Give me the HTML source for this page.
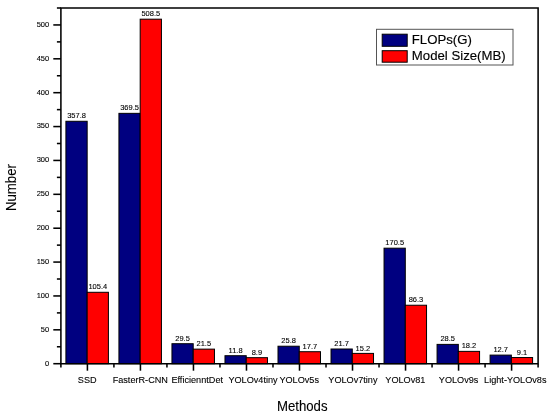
<!DOCTYPE html>
<html><head><meta charset="utf-8"><title>chart</title>
<style>html,body{margin:0;padding:0;background:#fff}svg{display:block}text{font-family:"Liberation Sans",Arial,sans-serif;fill:#000}</style></head>
<body>
<svg width="550" height="419" viewBox="0 0 550 419">
<rect width="550" height="419" fill="#fff"/>
<rect x="65.91" y="121.28" width="21.25" height="242.42" fill="#000080" stroke="#000" stroke-width="1"/>
<rect x="87.16" y="292.29" width="21.25" height="71.41" fill="#ff0000" stroke="#000" stroke-width="1"/>
<text transform="translate(76.54,118.38) scale(1,1.06)" font-size="7.5" text-anchor="middle" stroke="#000" stroke-width="0.1">357.8</text>
<text transform="translate(97.79,289.39) scale(1,1.06)" font-size="7.5" text-anchor="middle" stroke="#000" stroke-width="0.1">105.4</text>
<text transform="translate(87.20,382.70) scale(1,1.06)" font-size="9.15" text-anchor="middle" stroke="#000" stroke-width="0.1">SSD</text>
<rect x="118.93" y="113.35" width="21.25" height="250.35" fill="#000080" stroke="#000" stroke-width="1"/>
<rect x="140.18" y="19.18" width="21.25" height="344.52" fill="#ff0000" stroke="#000" stroke-width="1"/>
<text transform="translate(129.56,110.45) scale(1,1.06)" font-size="7.5" text-anchor="middle" stroke="#000" stroke-width="0.1">369.5</text>
<text transform="translate(150.81,16.28) scale(1,1.06)" font-size="7.5" text-anchor="middle" stroke="#000" stroke-width="0.1">508.5</text>
<text transform="translate(140.30,382.70) scale(1,1.06)" font-size="9.15" text-anchor="middle" stroke="#000" stroke-width="0.1">FasterR-CNN</text>
<rect x="171.96" y="343.71" width="21.25" height="19.99" fill="#000080" stroke="#000" stroke-width="1"/>
<rect x="193.21" y="349.13" width="21.25" height="14.57" fill="#ff0000" stroke="#000" stroke-width="1"/>
<text transform="translate(182.58,340.81) scale(1,1.06)" font-size="7.5" text-anchor="middle" stroke="#000" stroke-width="0.1">29.5</text>
<text transform="translate(203.83,346.23) scale(1,1.06)" font-size="7.5" text-anchor="middle" stroke="#000" stroke-width="0.1">21.5</text>
<text transform="translate(197.20,382.70) scale(1,1.06)" font-size="9.15" text-anchor="middle" stroke="#000" stroke-width="0.1">EfficienntDet</text>
<rect x="224.98" y="355.71" width="21.25" height="7.99" fill="#000080" stroke="#000" stroke-width="1"/>
<rect x="246.23" y="357.67" width="21.25" height="6.03" fill="#ff0000" stroke="#000" stroke-width="1"/>
<text transform="translate(235.60,352.81) scale(1,1.06)" font-size="7.5" text-anchor="middle" stroke="#000" stroke-width="0.1">11.8</text>
<text transform="translate(256.85,354.77) scale(1,1.06)" font-size="7.5" text-anchor="middle" stroke="#000" stroke-width="0.1">8.9</text>
<text transform="translate(253.00,382.70) scale(1,1.06)" font-size="9.15" text-anchor="middle" stroke="#000" stroke-width="0.1">YOLOv4tiny</text>
<rect x="278.00" y="346.22" width="21.25" height="17.48" fill="#000080" stroke="#000" stroke-width="1"/>
<rect x="299.25" y="351.71" width="21.25" height="11.99" fill="#ff0000" stroke="#000" stroke-width="1"/>
<text transform="translate(288.62,343.32) scale(1,1.06)" font-size="7.5" text-anchor="middle" stroke="#000" stroke-width="0.1">25.8</text>
<text transform="translate(309.88,348.81) scale(1,1.06)" font-size="7.5" text-anchor="middle" stroke="#000" stroke-width="0.1">17.7</text>
<text transform="translate(299.20,382.70) scale(1,1.06)" font-size="9.15" text-anchor="middle" stroke="#000" stroke-width="0.1">YOLOv5s</text>
<rect x="331.02" y="349.00" width="21.25" height="14.70" fill="#000080" stroke="#000" stroke-width="1"/>
<rect x="352.27" y="353.40" width="21.25" height="10.30" fill="#ff0000" stroke="#000" stroke-width="1"/>
<text transform="translate(341.65,346.10) scale(1,1.06)" font-size="7.5" text-anchor="middle" stroke="#000" stroke-width="0.1">21.7</text>
<text transform="translate(362.90,350.50) scale(1,1.06)" font-size="7.5" text-anchor="middle" stroke="#000" stroke-width="0.1">15.2</text>
<text transform="translate(352.90,382.70) scale(1,1.06)" font-size="9.15" text-anchor="middle" stroke="#000" stroke-width="0.1">YOLOv7tiny</text>
<rect x="384.04" y="248.18" width="21.25" height="115.52" fill="#000080" stroke="#000" stroke-width="1"/>
<rect x="405.29" y="305.23" width="21.25" height="58.47" fill="#ff0000" stroke="#000" stroke-width="1"/>
<text transform="translate(394.67,245.28) scale(1,1.06)" font-size="7.5" text-anchor="middle" stroke="#000" stroke-width="0.1">170.5</text>
<text transform="translate(415.92,302.33) scale(1,1.06)" font-size="7.5" text-anchor="middle" stroke="#000" stroke-width="0.1">86.3</text>
<text transform="translate(405.40,382.70) scale(1,1.06)" font-size="9.15" text-anchor="middle" stroke="#000" stroke-width="0.1">YOLOv81</text>
<rect x="437.07" y="344.39" width="21.25" height="19.31" fill="#000080" stroke="#000" stroke-width="1"/>
<rect x="458.32" y="351.37" width="21.25" height="12.33" fill="#ff0000" stroke="#000" stroke-width="1"/>
<text transform="translate(447.69,341.49) scale(1,1.06)" font-size="7.5" text-anchor="middle" stroke="#000" stroke-width="0.1">28.5</text>
<text transform="translate(468.94,348.47) scale(1,1.06)" font-size="7.5" text-anchor="middle" stroke="#000" stroke-width="0.1">18.2</text>
<text transform="translate(458.60,382.70) scale(1,1.06)" font-size="9.15" text-anchor="middle" stroke="#000" stroke-width="0.1">YOLOv9s</text>
<rect x="490.09" y="355.10" width="21.25" height="8.60" fill="#000080" stroke="#000" stroke-width="1"/>
<rect x="511.34" y="357.53" width="21.25" height="6.17" fill="#ff0000" stroke="#000" stroke-width="1"/>
<text transform="translate(500.71,352.20) scale(1,1.06)" font-size="7.5" text-anchor="middle" stroke="#000" stroke-width="0.1">12.7</text>
<text transform="translate(521.96,354.63) scale(1,1.06)" font-size="7.5" text-anchor="middle" stroke="#000" stroke-width="0.1">9.1</text>
<text transform="translate(515.30,382.70) scale(1,1.06)" font-size="9.15" text-anchor="middle" stroke="#000" stroke-width="0.1">Light-YOLOv8s</text>
<path d="M60.9 363.7 V8.00 H538.1 V363.7 Z" fill="none" stroke="#000" stroke-width="1.55"/>
<line x1="53.30" y1="363.70" x2="60.9" y2="363.70" stroke="#000" stroke-width="1.55"/>
<text transform="translate(49.20,365.60) scale(1,1.06)" font-size="7.5" text-anchor="end" stroke="#000" stroke-width="0.1">0</text>
<line x1="56.90" y1="346.76" x2="60.9" y2="346.76" stroke="#000" stroke-width="1.55"/>
<line x1="53.30" y1="329.82" x2="60.9" y2="329.82" stroke="#000" stroke-width="1.55"/>
<text transform="translate(49.20,331.72) scale(1,1.06)" font-size="7.5" text-anchor="end" stroke="#000" stroke-width="0.1">50</text>
<line x1="56.90" y1="312.89" x2="60.9" y2="312.89" stroke="#000" stroke-width="1.55"/>
<line x1="53.30" y1="295.95" x2="60.9" y2="295.95" stroke="#000" stroke-width="1.55"/>
<text transform="translate(49.20,297.85) scale(1,1.06)" font-size="7.5" text-anchor="end" stroke="#000" stroke-width="0.1">100</text>
<line x1="56.90" y1="279.01" x2="60.9" y2="279.01" stroke="#000" stroke-width="1.55"/>
<line x1="53.30" y1="262.07" x2="60.9" y2="262.07" stroke="#000" stroke-width="1.55"/>
<text transform="translate(49.20,263.97) scale(1,1.06)" font-size="7.5" text-anchor="end" stroke="#000" stroke-width="0.1">150</text>
<line x1="56.90" y1="245.13" x2="60.9" y2="245.13" stroke="#000" stroke-width="1.55"/>
<line x1="53.30" y1="228.20" x2="60.9" y2="228.20" stroke="#000" stroke-width="1.55"/>
<text transform="translate(49.20,230.10) scale(1,1.06)" font-size="7.5" text-anchor="end" stroke="#000" stroke-width="0.1">200</text>
<line x1="56.90" y1="211.26" x2="60.9" y2="211.26" stroke="#000" stroke-width="1.55"/>
<line x1="53.30" y1="194.32" x2="60.9" y2="194.32" stroke="#000" stroke-width="1.55"/>
<text transform="translate(49.20,196.22) scale(1,1.06)" font-size="7.5" text-anchor="end" stroke="#000" stroke-width="0.1">250</text>
<line x1="56.90" y1="177.38" x2="60.9" y2="177.38" stroke="#000" stroke-width="1.55"/>
<line x1="53.30" y1="160.44" x2="60.9" y2="160.44" stroke="#000" stroke-width="1.55"/>
<text transform="translate(49.20,162.34) scale(1,1.06)" font-size="7.5" text-anchor="end" stroke="#000" stroke-width="0.1">300</text>
<line x1="56.90" y1="143.50" x2="60.9" y2="143.50" stroke="#000" stroke-width="1.55"/>
<line x1="53.30" y1="126.57" x2="60.9" y2="126.57" stroke="#000" stroke-width="1.55"/>
<text transform="translate(49.20,128.47) scale(1,1.06)" font-size="7.5" text-anchor="end" stroke="#000" stroke-width="0.1">350</text>
<line x1="56.90" y1="109.63" x2="60.9" y2="109.63" stroke="#000" stroke-width="1.55"/>
<line x1="53.30" y1="92.69" x2="60.9" y2="92.69" stroke="#000" stroke-width="1.55"/>
<text transform="translate(49.20,94.59) scale(1,1.06)" font-size="7.5" text-anchor="end" stroke="#000" stroke-width="0.1">400</text>
<line x1="56.90" y1="75.75" x2="60.9" y2="75.75" stroke="#000" stroke-width="1.55"/>
<line x1="53.30" y1="58.81" x2="60.9" y2="58.81" stroke="#000" stroke-width="1.55"/>
<text transform="translate(49.20,60.71) scale(1,1.06)" font-size="7.5" text-anchor="end" stroke="#000" stroke-width="0.1">450</text>
<line x1="56.90" y1="41.88" x2="60.9" y2="41.88" stroke="#000" stroke-width="1.55"/>
<line x1="53.30" y1="24.94" x2="60.9" y2="24.94" stroke="#000" stroke-width="1.55"/>
<text transform="translate(49.20,26.84) scale(1,1.06)" font-size="7.5" text-anchor="end" stroke="#000" stroke-width="0.1">500</text>
<line x1="56.90" y1="8.00" x2="60.9" y2="8.00" stroke="#000" stroke-width="1.55"/>
<line x1="60.90" y1="363.7" x2="60.90" y2="367.59999999999997" stroke="#000" stroke-width="1.55"/>
<line x1="87.41" y1="363.7" x2="87.41" y2="370.7" stroke="#000" stroke-width="1.55"/>
<line x1="113.92" y1="363.7" x2="113.92" y2="367.59999999999997" stroke="#000" stroke-width="1.55"/>
<line x1="140.43" y1="363.7" x2="140.43" y2="370.7" stroke="#000" stroke-width="1.55"/>
<line x1="166.94" y1="363.7" x2="166.94" y2="367.59999999999997" stroke="#000" stroke-width="1.55"/>
<line x1="193.46" y1="363.7" x2="193.46" y2="370.7" stroke="#000" stroke-width="1.55"/>
<line x1="219.97" y1="363.7" x2="219.97" y2="367.59999999999997" stroke="#000" stroke-width="1.55"/>
<line x1="246.48" y1="363.7" x2="246.48" y2="370.7" stroke="#000" stroke-width="1.55"/>
<line x1="272.99" y1="363.7" x2="272.99" y2="367.59999999999997" stroke="#000" stroke-width="1.55"/>
<line x1="299.50" y1="363.7" x2="299.50" y2="370.7" stroke="#000" stroke-width="1.55"/>
<line x1="326.01" y1="363.7" x2="326.01" y2="367.59999999999997" stroke="#000" stroke-width="1.55"/>
<line x1="352.52" y1="363.7" x2="352.52" y2="370.7" stroke="#000" stroke-width="1.55"/>
<line x1="379.03" y1="363.7" x2="379.03" y2="367.59999999999997" stroke="#000" stroke-width="1.55"/>
<line x1="405.54" y1="363.7" x2="405.54" y2="370.7" stroke="#000" stroke-width="1.55"/>
<line x1="432.06" y1="363.7" x2="432.06" y2="367.59999999999997" stroke="#000" stroke-width="1.55"/>
<line x1="458.57" y1="363.7" x2="458.57" y2="370.7" stroke="#000" stroke-width="1.55"/>
<line x1="485.08" y1="363.7" x2="485.08" y2="367.59999999999997" stroke="#000" stroke-width="1.55"/>
<line x1="511.59" y1="363.7" x2="511.59" y2="370.7" stroke="#000" stroke-width="1.55"/>
<line x1="538.10" y1="363.7" x2="538.10" y2="367.59999999999997" stroke="#000" stroke-width="1.55"/>
<text transform="translate(302.20,411.30) scale(1,1.07)" font-size="13.2" text-anchor="middle" stroke="#000" stroke-width="0.1">Methods</text>
<text transform="translate(16.20,187.60) rotate(-90) scale(1,1.07)" font-size="13.2" text-anchor="middle" stroke="#000" stroke-width="0.1">Number</text>
<rect x="376.5" y="29.3" width="136.5" height="35.7" fill="#fff" stroke="#555" stroke-width="1"/>
<rect x="382.2" y="34.2" width="25" height="12.1" fill="#000080" stroke="#000" stroke-width="1"/>
<rect x="382.2" y="50.7" width="25" height="11.5" fill="#ff0000" stroke="#000" stroke-width="1"/>
<text transform="translate(411.80,43.70) scale(1,1.02)" font-size="13.2" stroke="#000" stroke-width="0.15">FLOPs(G)</text>
<text transform="translate(411.80,59.80) scale(1,1.02)" font-size="13.2" stroke="#000" stroke-width="0.15">Model Size(MB)</text>
</svg>
</body></html>
